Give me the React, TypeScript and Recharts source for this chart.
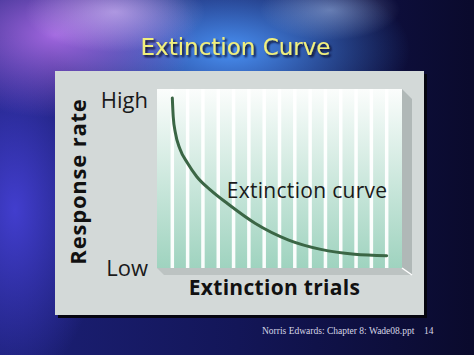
import { LineChart, Line, XAxis, YAxis, CartesianGrid } from 'recharts';

// trials (x) and response rate (0 = low, 100 = high)
const TRIALS = [1, 1.06, 1.2, 1.5, 2, 2.6, 3.5, 4.6, 6.4, 8.6, 10.7, 12.9, 15];
const RESPONSE = [95, 84.5, 75.5, 66.5, 58.5, 51, 43.5, 36, 25, 15.6, 10.4, 7.7, 6.9];

// white stripes behind the curve
const STRIPES = [1, 2, 3, 4, 5, 6, 7, 8, 9, 10, 11, 12, 13, 14, 15];
const Y_TICKS = [0, 94];
const Y_LABELS = ['Low', 'High'];

const data = TRIALS.map((t, i) => ({ trial: t, rate: RESPONSE[i] }));

const FONT = '"Open Sans", "DejaVu Sans", sans-serif';

// panel + plot box in page pixels
const PANEL = { x: 55, y: 71, w: 369, h: 244 };
const PLOT = { left: 157, top: 89, right: 402, bottom: 268 };

export default function App() {
  const margin = {
    top: PLOT.top - PANEL.y,
    right: PANEL.x + PANEL.w - PLOT.right,
    bottom: 0,
    left: 0,
  };
  const yAxisW = PLOT.left - PANEL.x;
  const xAxisH = PANEL.y + PANEL.h - PLOT.bottom;

  return (
    <div
      style={{
        position: 'absolute',
        left: 0,
        top: 0,
        width: 474,
        height: 355,
        overflow: 'hidden',
        background: [
          'radial-gradient(ellipse 90px 40px at 115px 12px, rgba(225,200,255,0.6), transparent)',
          'radial-gradient(ellipse 70px 30px at 330px 10px, rgba(190,215,255,0.45), transparent)',
          'radial-gradient(ellipse 190px 110px at 55px 35px, rgba(175,110,235,0.9), transparent 75%)',
          'radial-gradient(ellipse 240px 115px at 230px 50px, rgba(75,150,250,0.95), transparent 75%)',
          'radial-gradient(ellipse 110px 220px at 15px 210px, rgba(70,65,215,0.9), transparent 80%)',
          'linear-gradient(90deg, #1c2078 0%, #131658 50%, #0a0a2c 100%)',
        ].join(', '),
      }}
    >
      {/* panel shadow + panel */}
      <div
        style={{
          position: 'absolute',
          left: PANEL.x + 3,
          top: PANEL.y + 3,
          width: PANEL.w,
          height: PANEL.h,
          background: '#050510',
        }}
      />
      <div
        style={{
          position: 'absolute',
          left: PANEL.x,
          top: PANEL.y,
          width: PANEL.w,
          height: PANEL.h,
          background: '#d3d9d8',
        }}
      >
        <LineChart width={PANEL.w} height={PANEL.h} data={data} margin={margin}>
          <defs>
            <linearGradient id="plotFill" x1="0" y1="0" x2="0" y2="1">
              <stop offset="0%" stopColor="#fbfdfc" />
              <stop offset="100%" stopColor="#9fd3bf" />
            </linearGradient>
          </defs>
          <CartesianGrid
            horizontal={false}
            stroke="#ffffff"
            strokeWidth={3.5}
            strokeOpacity={0.95}
            fill="url(#plotFill)"
            fillOpacity={1}
            verticalCoordinatesGenerator={({ xAxis, offset }: any) => {
              const s = xAxis?.scale;
              if (typeof s === 'function') return STRIPES.map((v) => s(v));
              return STRIPES.map((v) => offset.left + (offset.width * v) / 16);
            }}
          />
          <XAxis
            dataKey="trial"
            type="number"
            domain={[0, 16]}
            ticks={STRIPES}
            tick={false}
            tickLine={false}
            axisLine={false}
            height={xAxisH}
            label={{
              content: (p: any) => {
                const vb = p.viewBox;
                return (
                  <text
                    x={vb.x + vb.width / 2 - 5}
                    y={vb.y + 27}
                    textAnchor="middle"
                    fontFamily={FONT}
                    fontWeight={700}
                    fontSize={21}
                    letterSpacing={0.3}
                    fill="#111"
                  >
                    Extinction trials
                  </text>
                );
              },
            }}
          />
          <YAxis
            type="number"
            domain={[0, 100]}
            ticks={Y_TICKS}
            tickFormatter={(v: number) => Y_LABELS[Y_TICKS.indexOf(v)]}
            width={yAxisW}
            axisLine={false}
            tickLine={false}
            tickSize={0}
            tickMargin={9}
            tick={{ fontFamily: FONT, fontSize: 22, fill: '#1a1a1a' }}
            label={{
              content: (p: any) => {
                const vb = p.viewBox;
                const cx = vb.x + 22;
                const cy = vb.y + vb.height / 2 + 3;
                return (
                  <text
                    x={cx}
                    y={cy}
                    transform={`rotate(-90 ${cx} ${cy})`}
                    textAnchor="middle"
                    dominantBaseline="central"
                    fontFamily={FONT}
                    fontWeight={700}
                    fontSize={22}
                    letterSpacing={0.8}
                    fill="#111"
                  >
                    Response rate
                  </text>
                );
              },
            }}
          />
          <Line
            type="monotone"
            dataKey="rate"
            stroke="#3b6645"
            strokeWidth={3}
            strokeLinecap="round"
            dot={false}
            activeDot={false}
            isAnimationActive={false}
          />
          <text
            x={226.7 - PANEL.x}
            y={198.3 - PANEL.y}
            fontFamily={FONT}
            fontSize={21}
            letterSpacing={0.3}
            fill="#1a1a1a"
          >
            Extinction curve
          </text>
        </LineChart>
      </div>

      {/* bevel faces, title and footer */}
      <svg
        width={474}
        height={355}
        style={{ position: 'absolute', left: 0, top: 0, pointerEvents: 'none' }}
      >
        <defs>
          <filter id="titleShadow" x="-10%" y="-30%" width="120%" height="160%">
            <feDropShadow dx={2} dy={2} stdDeviation={0.8} floodColor="#0c0c2a" floodOpacity={1} />
          </filter>
        </defs>
        <polygon
          points={`${PLOT.right},${PLOT.top} ${PLOT.right + 10},${PLOT.top + 10} ${PLOT.right + 10},${PLOT.bottom + 7} ${PLOT.right},${PLOT.bottom}`}
          fill="#b0b8b7"
        />
        <polygon
          points={`${PLOT.left},${PLOT.bottom} ${PLOT.right},${PLOT.bottom} ${PLOT.right + 10},${PLOT.bottom + 7} ${PLOT.left + 7},${PLOT.bottom + 7}`}
          fill="#bcc3c2"
        />
        <line
          x1={PLOT.right}
          y1={PLOT.bottom}
          x2={PLOT.right + 10}
          y2={PLOT.bottom + 7}
          stroke="#ffffff"
          strokeWidth={1.5}
        />
        <text
          x={235.5}
          y={55}
          textAnchor="middle"
          fontFamily='"DejaVu Sans", sans-serif'
          fontSize={23}
          fill="#f1ef7c"
          filter="url(#titleShadow)"
        >
          Extinction Curve
        </text>
        <text x={262} y={334} fontFamily='"Liberation Serif", serif' fontSize={9.5} fill="#d6d6e6">
          Norris Edwards: Chapter 8: Wade08.ppt
        </text>
        <text x={424} y={334} fontFamily='"Liberation Serif", serif' fontSize={9.5} fill="#d6d6e6">
          14
        </text>
      </svg>
    </div>
  );
}
